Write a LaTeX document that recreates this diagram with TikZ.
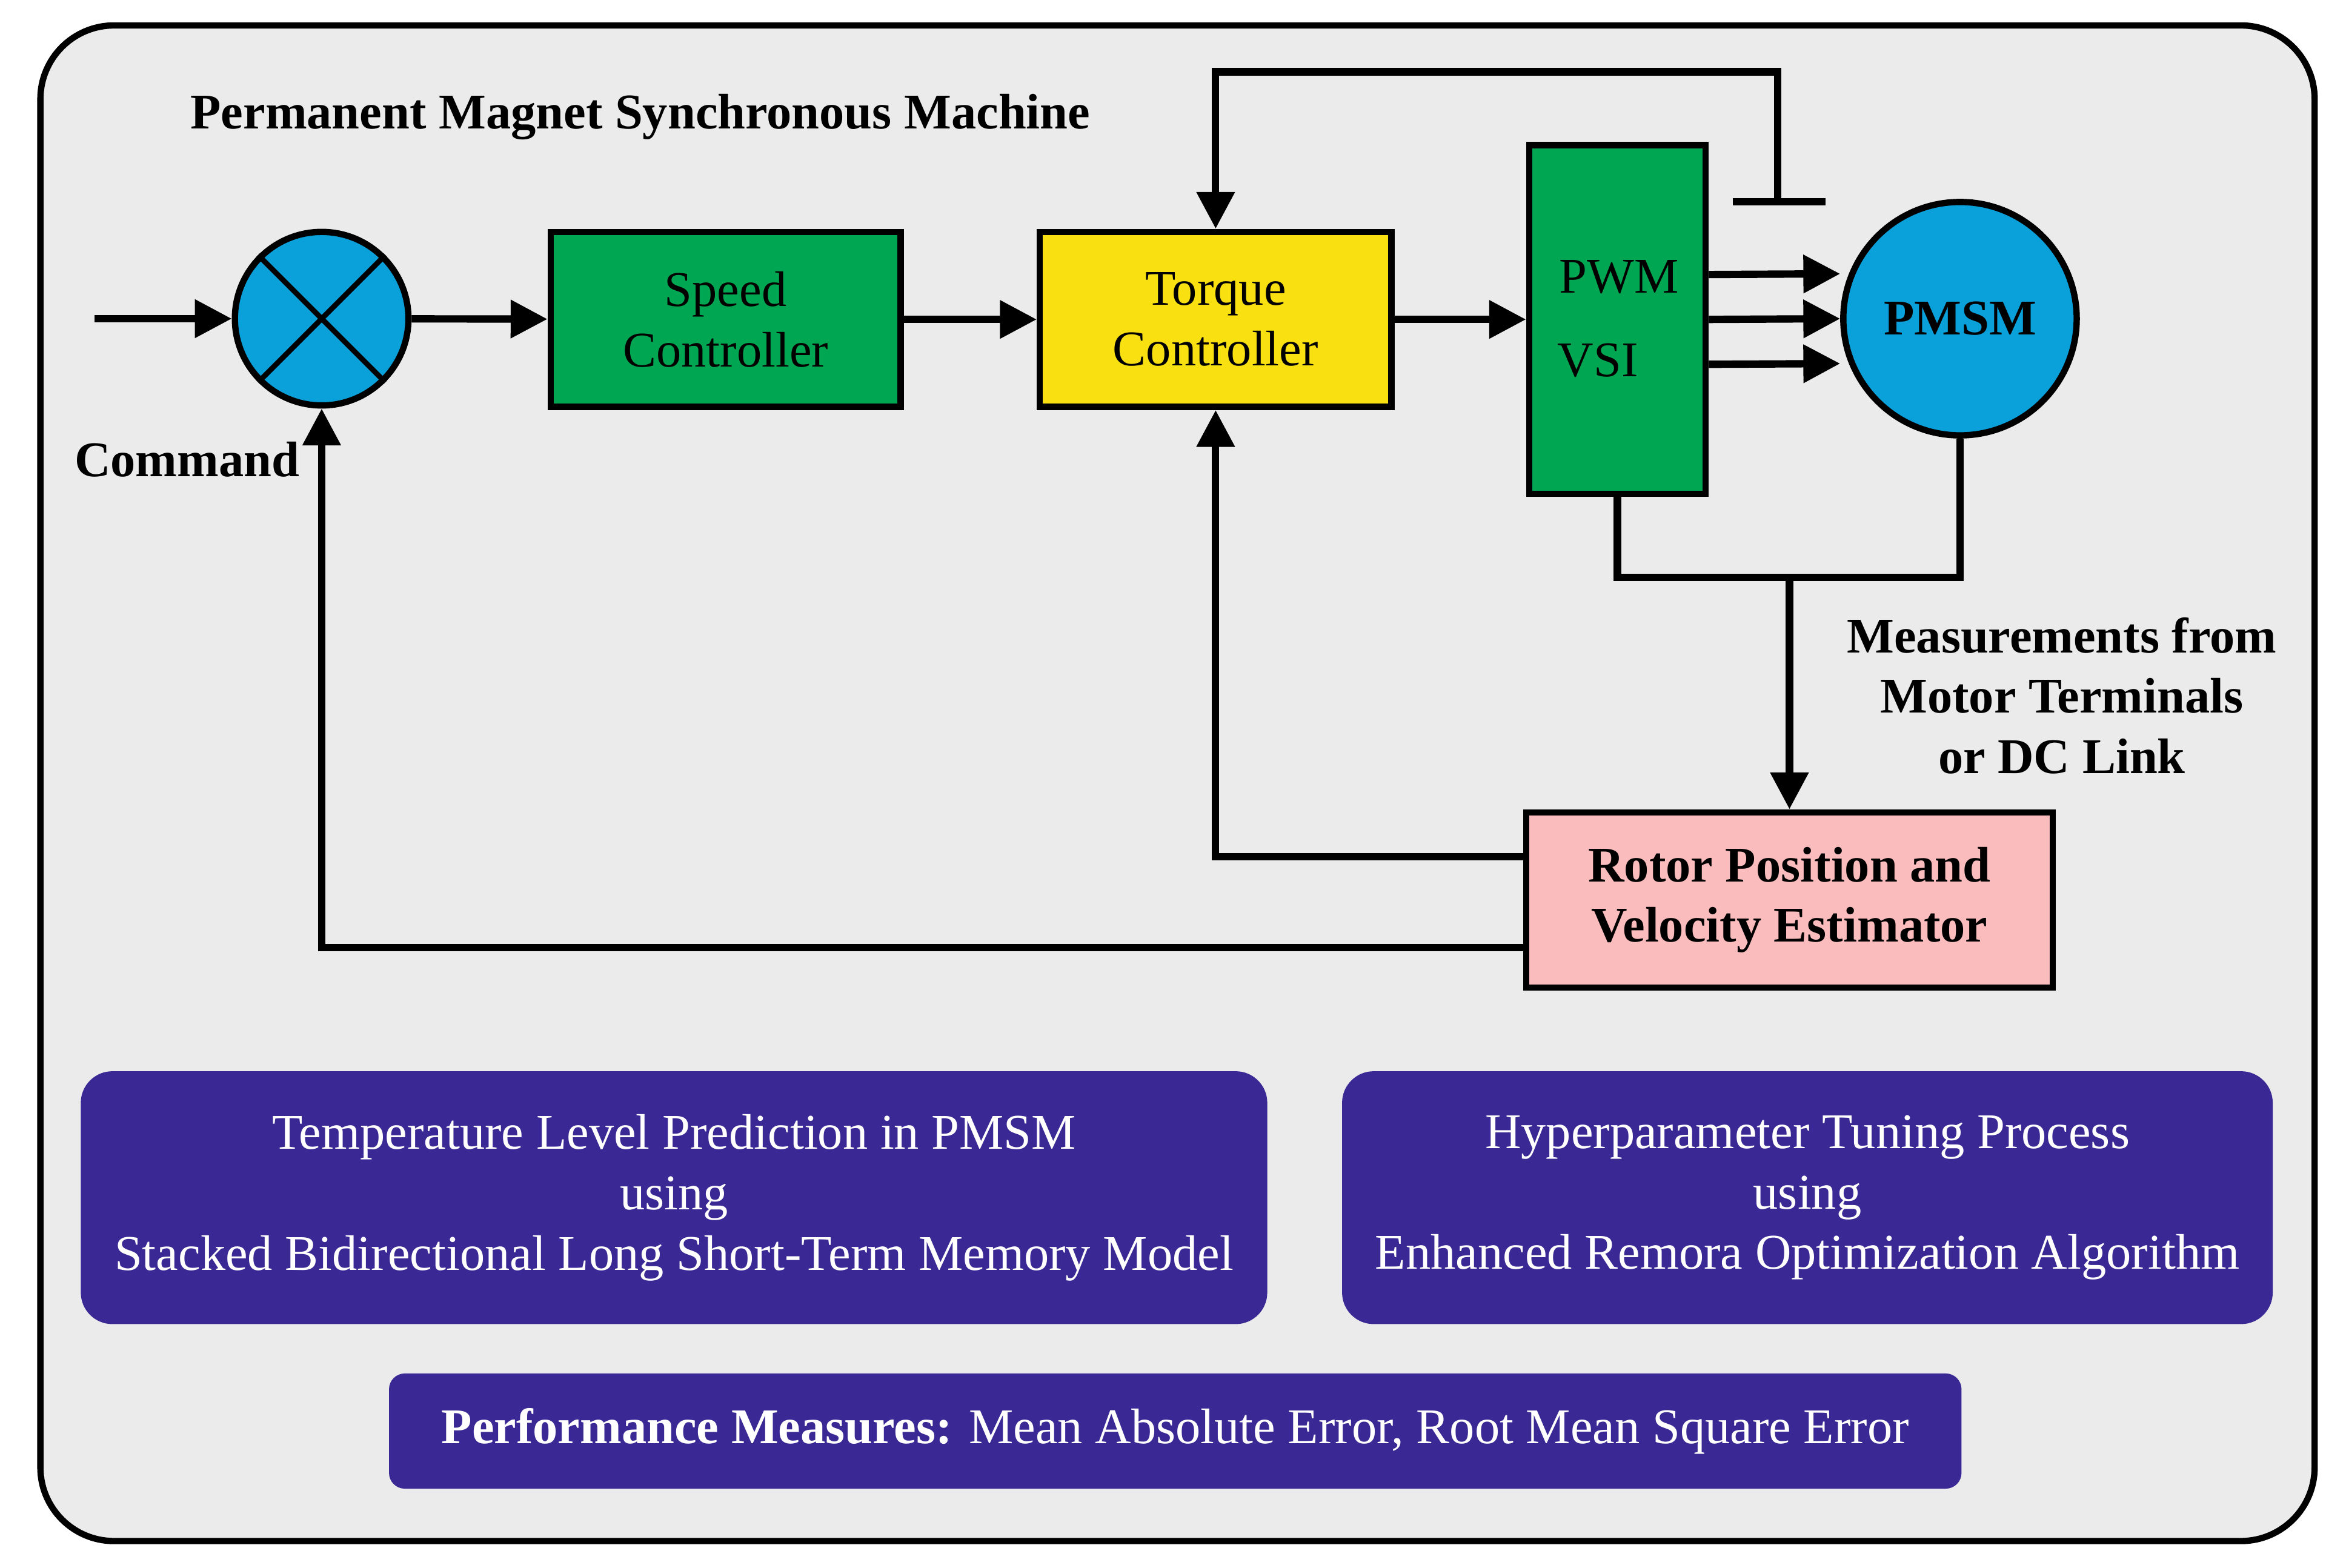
\documentclass[tikz,border=0pt]{standalone}
\usepackage{fontspec}
\setmainfont{Liberation Serif}
\usetikzlibrary{arrows.meta,positioning}
\definecolor{panelgray}{HTML}{EBEBEB}
\definecolor{blockgreen}{HTML}{00A651}
\definecolor{blockyellow}{HTML}{F9E011}
\definecolor{motorblue}{HTML}{0AA0DA}
\definecolor{estpink}{HTML}{FBBCBE}
\definecolor{taskpurple}{HTML}{3A2894}
\tikzset{
    wire/.style={line width=1.4pt},
    flow/.style={wire, -{Triangle[length=7pt,width=7pt]}},
    block/.style={draw=black, line width=1.2pt, align=center, inner sep=0pt},
    task/.style={fill=taskpurple, rounded corners=6pt, text=white, align=center, inner sep=0pt},
}
\begin{document}
\begin{tikzpicture}[x=1cm,y=-1cm, font=\fontsize{9.5}{11.5}\selectfont]
\useasboundingbox (0,0) rectangle (15.68,10.48);
\draw[fill=panelgray, line width=1.2pt, rounded corners=14pt] (0.27,0.17) rectangle (15.47,10.30);
\node[font=\fontsize{9.5}{11.5}\selectfont\bfseries] (title) at (4.28,0.78) {Permanent Magnet Synchronous Machine};

% control loop
\node[circle, draw, line width=1.2pt, fill=motorblue, minimum size=1.16cm, inner sep=0pt] (sum) at (2.15,2.13) {};
\draw[line width=1pt] (sum.north west) -- (sum.south east) (sum.north east) -- (sum.south west);
\coordinate (cmdin) at (0.63,2.13);
\node[font=\fontsize{9.5}{11.5}\selectfont\bfseries] (cmd) at (1.25,3.07) {Command};
\node[block, fill=blockgreen, minimum width=2.34cm, minimum height=1.17cm] (speed) at (4.85,2.135) {Speed\\Controller};
\node[block, fill=blockyellow, minimum width=2.35cm, minimum height=1.17cm] (torque) at (8.125,2.135) {Torque\\Controller};
\node[block, fill=blockgreen, minimum width=1.18cm, minimum height=2.33cm] (vsi) at (10.81,2.135) {};
\node (pwm) at (10.82,1.85) {PWM};
\node (vsilbl) at (10.68,2.41) {VSI};
\node[circle, draw, line width=1.2pt, fill=motorblue, minimum size=1.56cm, inner sep=0pt, font=\fontsize{9.5}{11.5}\selectfont\bfseries] (pmsm) at (13.10,2.13) {PMSM};
\node[block, fill=estpink, minimum width=3.52cm, minimum height=1.17cm, font=\fontsize{9.5}{11.5}\selectfont\bfseries] (est) at (11.96,6.015) {Rotor Position and\\Velocity Estimator};
\node[align=center, font=\fontsize{9.5}{11.5}\selectfont\bfseries] (meas) at (13.78,4.65) {Measurements from\\Motor Terminals\\or DC Link};

\draw[flow] (cmdin) -- (sum);
\draw[flow] (sum) -- (speed);
\draw[flow] (speed) -- (torque);
\draw[flow] (torque) -- (vsi);
\foreach \dy in {-0.3,0,0.3}
    \draw[flow] ([yshift=-\dy cm]vsi.east) -- ([yshift=-\dy cm]pmsm.west);

% inhibit feedback over the top
\coordinate (bar) at (11.88,1.35);
\draw[wire] (11.58,1.35) -- (12.20,1.35);
\draw[flow] (bar) |- (9.0,0.48) -| (torque.north);

% measurement path
\coordinate (tap) at (11.96,3.86);
\draw[wire] (vsi.south) |- (tap) -| (pmsm.south);
\draw[flow] (tap) -- (est.north);
\draw[flow] ([yshift=0.29cm]est.west) -| (torque.south);
\draw[flow] ([yshift=-0.32cm]est.west) -| (sum.south);

% study boxes
\node[task, minimum width=7.93cm, minimum height=1.69cm] (pred) at (4.505,8.005) {Temperature Level Prediction in PMSM\\using\\Stacked Bidirectional Long Short-Term Memory Model};
\node[task, minimum width=6.22cm, minimum height=1.69cm] (tune) at (12.08,8.005) {Hyperparameter Tuning Process\\using\\Enhanced Remora Optimization Algorithm};
\node[task, rounded corners=3pt, minimum width=10.51cm, minimum height=0.77cm] (perf) at (7.855,9.565) {\textbf{Performance Measures:} Mean Absolute Error, Root Mean Square Error};
\end{tikzpicture}
\end{document}
